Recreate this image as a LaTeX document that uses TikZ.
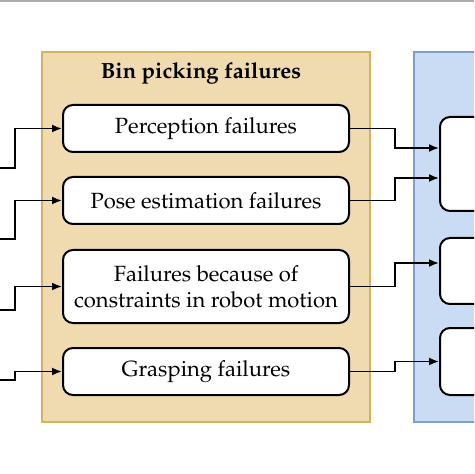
\documentclass[tikz,border=0pt]{standalone}
\usepackage[T1]{fontenc}
\usepackage{mathpazo}
\usepackage{tikz}
\usetikzlibrary{arrows.meta}

\definecolor{tanfill}{HTML}{EFDBAF}
\definecolor{tanline}{HTML}{D4B35A}
\definecolor{bluefill}{HTML}{C9DCF3}
\definecolor{blueline}{HTML}{7C9FD0}

\begin{document}
\begin{tikzpicture}[%
      x=0.5pt, y=-0.5pt,
      failbox/.style={draw, line width=1pt, fill=white, rounded corners=5pt,
        minimum width=143pt, align=center, font=\fontsize{11}{13}\selectfont},
      causebox/.style={draw, line width=1pt, fill=white, rounded corners=5pt,
        minimum width=80pt},
      link/.style={line width=0.9pt, -{Latex[length=5pt,width=4pt]}}]
    \useasboundingbox (0,0) rectangle (474,474);
    \clip (0,0) rectangle (474,474);
    \fill[black!32] (0,0) rectangle (474,2);
    % groups
    \draw[fill=tanfill, draw=tanline, line width=0.7pt] (42,52) rectangle (370,422);
    \draw[fill=bluefill, draw=blueline, line width=0.7pt] (414,52) rectangle (500,422);
    \node[font=\bfseries\fontsize{11}{13}\selectfont] (title) at (201,73) {Bin picking failures};
    \node[failbox, minimum height=23.5pt] (perc) at (206,128.5) {Perception failures};
    \node[failbox, minimum height=23.5pt] (pose) at (206,200.5) {Pose estimation failures};
    \node[failbox, minimum height=36.5pt] (motion) at (206,286.5) {Failures because of\\constraints in robot motion};
    \node[failbox, minimum height=23.5pt] (grasp) at (206,371.5) {Grasping failures};
    \node[causebox, minimum height=47pt] (r1) at (520,164) {};
    \node[causebox, minimum height=33pt] (r2) at (520,271) {};
    \node[causebox, minimum height=33.5pt] (r3) at (520,361.5) {};
    % incoming
    \coordinate (in1) at (-5,168);
    \coordinate (in2) at (-5,239);
    \coordinate (in3) at (-5,310);
    \coordinate (in4) at (-5,380);
    \draw[link] (in1) -- ++(20,0) |- (perc.west);
    \draw[link] (in2) -- ++(20,0) |- (pose.west);
    \draw[link] (in3) -- ++(20,0) |- (motion.west);
    \draw[link] (in4) -- ++(20,0) |- (grasp.west);
    % outgoing
    \draw[link] (perc.east) -- ++(45,0) |- ([yshift=8pt]r1.west);
    \draw[link] (pose.east) -- ++(45,0) |- ([yshift=-7pt]r1.west);
    \draw[link] (motion.east) -- ++(45,0) |- ([yshift=4pt]r2.west);
    \draw[link] (grasp.east) -- ++(45,0) |- (r3.west);
  \end{tikzpicture}
\end{document}
